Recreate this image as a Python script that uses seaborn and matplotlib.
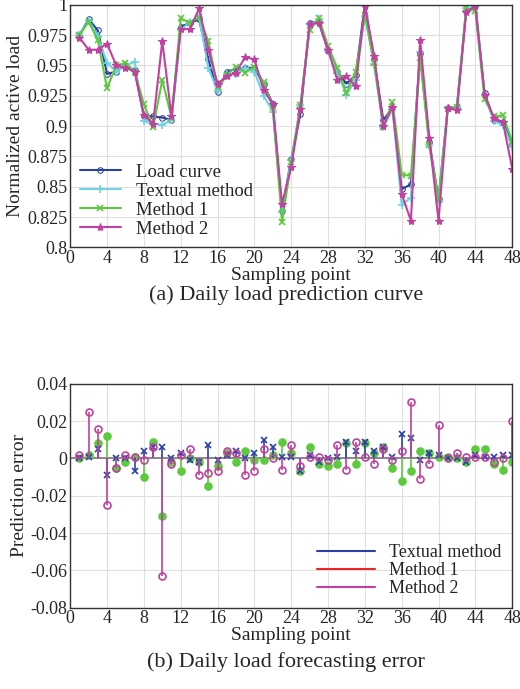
import numpy as np
import matplotlib
matplotlib.use("Agg")
import matplotlib.pyplot as plt
import seaborn as sns

sns.set_style("white")
plt.rcParams['font.family'] = ['Liberation Serif', 'DejaVu Serif']

points = list(range(1, 49))
load = [0.975,0.988,0.979,0.943,0.945,0.950,0.946,0.908,0.908,0.907,0.905,0.982,0.985,0.988,0.955,0.928,
        0.945,0.947,0.948,0.948,0.935,0.918,0.830,0.873,0.910,0.985,0.986,0.962,0.945,0.935,0.942,1.000,
        0.955,0.905,0.915,0.848,0.852,0.960,0.887,0.840,0.915,0.916,0.995,1.000,0.927,0.905,0.903,0.885]
err_text = [0,0.001,0.005,-0.009,0,0,-0.007,0.004,0.006,0.006,0,0.003,-0.001,-0.002,0.007,-0.001,
            0.002,0.004,0,0.003,0.010,0.006,0.001,0.001,-0.007,0.002,-0.002,0,0.001,0.009,0.004,0.009,
            0.004,0.006,0.001,0.013,0.011,-0.001,0.003,0.002,0,0,-0.002,0.002,0.001,0.001,0.002,0.002]
err_m1 = [0,0.002,0.008,0.012,-0.005,-0.002,0.001,-0.010,0.009,-0.031,-0.002,-0.007,0,-0.002,-0.015,-0.004,
          0.003,-0.002,0.004,-0.001,-0.001,0.002,0.009,0.003,-0.007,0.006,-0.003,-0.004,-0.003,0.008,-0.003,0.008,
          0.003,0.006,-0.005,-0.012,-0.007,0.004,0.003,0.001,0.001,0,-0.002,0.005,0.005,-0.003,-0.006,-0.002]
err_m2 = [0.002,0.025,0.016,-0.025,-0.005,0.002,0.001,-0.001,0.006,-0.063,-0.003,0.002,0.005,-0.009,-0.008,-0.007,
          0.004,0.003,-0.009,-0.007,0.005,0,-0.006,0.007,-0.004,0.001,0.001,-0.001,0.007,-0.006,0.009,0.001,
          -0.003,0.005,-0.001,0.004,0.030,-0.011,-0.003,0.018,0,0.003,0.001,0.001,0.001,-0.002,0,0.020]

x = np.array(points)
L = np.array(load)
pred_text = L - np.array(err_text)
pred_m1 = L - np.array(err_m1)
pred_m2 = L - np.array(err_m2)

c_load, c_text, c_m1, c_m2 = '#2b3f9e', '#6fd3e3', '#5cc93f', '#c2409f'
c_blue_stem, c_red = '#2c3fa8', '#e8262a'

fig = plt.figure(figsize=(5.2, 6.89), dpi=100)
ax1 = fig.add_axes([0.135, 0.641, 0.850, 0.352])
ax2 = fig.add_axes([0.135, 0.118, 0.850, 0.325])

sns.lineplot(x=x, y=L, ax=ax1, color=c_load, marker='o', mfc='none', mec=c_load, ms=4, lw=1.5, label='Load curve')
sns.lineplot(x=x, y=pred_text, ax=ax1, color=c_text, marker='+', ms=6, mew=1.2, mec=c_text, lw=1.5, label='Textual method')
sns.lineplot(x=x, y=pred_m1, ax=ax1, color=c_m1, marker='x', ms=5, mew=1.2, mec=c_m1, lw=1.5, label='Method 1')
sns.lineplot(x=x, y=pred_m2, ax=ax1, color=c_m2, marker='*', ms=6, mec=c_m2, lw=1.5, label='Method 2')
ax1.set_xlim(0, 48); ax1.set_ylim(0.8, 1.0)
ax1.set_xticks(range(0, 49, 4))
ax1.set_yticks(np.arange(0.8, 1.0001, 0.025))
ax1.set_yticklabels(['0.8','0.825','0.85','0.875','0.9','0.925','0.95','0.975','1'])
ax1.set_xlabel('Sampling point', fontsize=14, labelpad=0)
ax1.set_ylabel('Normalized active load', fontsize=14, labelpad=2)
ax1.grid(True, color='#e0e0e0', lw=0.8)
ax1.legend(loc='lower left', fontsize=13.5, frameon=False, handlelength=2.2, borderaxespad=0.1, labelspacing=0.1)

def stem(ax, y, color, marker, mfc):
    ml, sl, bl = ax.stem(x, y, linefmt='-', basefmt=' ')
    plt.setp(sl, color=color, lw=1.2)
    plt.setp(ml, marker=marker, color=color, mfc=mfc, mec=color, ms=5, mew=1.2)
    return ml

stem(ax2, err_m1, c_m1, 'o', c_m1)
stem(ax2, err_text, c_blue_stem, 'x', 'none')
stem(ax2, err_m2, c_m2, 'o', 'none')
ax2.axhline(0, color='#777777', lw=1.2, zorder=1)
ax2.set_xlim(0, 48); ax2.set_ylim(-0.08, 0.04)
ax2.set_xticks(range(0, 49, 4))
ax2.set_yticks(np.arange(-0.08, 0.0401, 0.02))
ax2.set_yticklabels(['-0.08','-0.06','-0.04','-0.02','0','0.02','0.04'])
ax2.set_xlabel('Sampling point', fontsize=14, labelpad=0)
ax2.set_ylabel('Prediction error', fontsize=14, labelpad=2)
ax2.grid(True, color='#e0e0e0', lw=0.8)
from matplotlib.lines import Line2D
handles = [Line2D([], [], color=c_blue_stem, lw=1.5), Line2D([], [], color=c_red, lw=1.5), Line2D([], [], color=c_m2, lw=1.5)]
ax2.legend(handles, ['Textual method', 'Method 1', 'Method 2'], loc='lower right', fontsize=13,
           frameon=False, handlelength=3.2, borderaxespad=0.2, labelspacing=0.05)

for ax in (ax1, ax2):
    ax.tick_params(labelsize=13, direction='in', length=3, color='#333333', pad=2)
    for s in ax.spines.values():
        s.set_color('#333333'); s.set_linewidth(1.0)

fig.text(0.55, 0.572, '(a) Daily load prediction curve', ha='center', va='center', fontsize=16)
fig.text(0.55, 0.039, '(b) Daily load forecasting error', ha='center', va='center', fontsize=16)

fig.savefig('out.png', dpi=100)
